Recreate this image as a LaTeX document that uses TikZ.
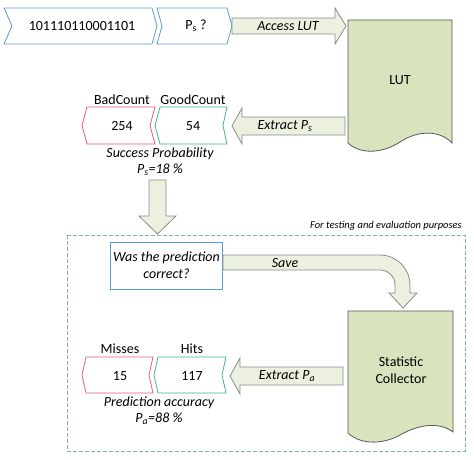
\documentclass[tikz,border=0pt]{standalone}
\usepackage{fontspec}
\setmainfont{Carlito}
\usepackage{tikz}

\definecolor{arrowfill}{HTML}{EBF1DE}
\definecolor{arrowline}{HTML}{8C8C8C}
\definecolor{docfill}{HTML}{D7E4BD}
\definecolor{docline}{HTML}{595959}
\definecolor{chevblue}{HTML}{5B9BD5}
\definecolor{chevred}{HTML}{EE5A6A}
\definecolor{chevgreen}{HTML}{3DB784}
\definecolor{boxdash}{HTML}{7FAFC2}

\newcommand{\Ps}{P\textsubscript{s}}
\newcommand{\Pa}{P\textsubscript{a}}

\begin{document}
\begin{tikzpicture}[x=1pt,y=-1pt,
  every node/.style={font=\fontsize{14}{17}\selectfont, inner sep=0pt},
  blockarrow/.style={fill=arrowfill, draw=arrowline, line width=0.8pt, line join=miter},
  document/.style={fill=docfill, draw=docline, line width=0.8pt},
  chevron/.style={fill=white, line width=0.8pt},
  label/.style={font=\fontsize{14}{17}\selectfont\itshape}]
  \useasboundingbox (0,0) rectangle (474,460);

  % input register
  \draw[chevron, draw=chevblue] (4,8) -- (152,8) -- (157,26) -- (152,44) -- (4,44) -- (12,26) -- cycle;
  \draw[chevron, draw=chevblue] (157,8) -- (227,8) -- (232,26) -- (227,44) -- (157,44) -- (162,26) -- cycle;
  \node (history) at (82,26) {101110110001101};
  \node (query) at (196,26) {\Ps\ ?};

  % look-up table
  \draw[blockarrow] (232,18) -- (335,18) -- (335,8) -- (346,26) -- (335,44) -- (335,34) -- (232,34) -- cycle;
  \node[label] (access) at (288,26) {Access LUT};
  \draw[document] (348,20) -- (452,20) -- (452,143)
    .. controls (440,130) and (418,130) .. (400,142)
    .. controls (385,152) and (362,156) .. (348,143) -- cycle;
  \node (lut) at (400,80) {LUT};

  \draw[blockarrow] (345,117) -- (242,117) -- (242,108) -- (232,126) -- (242,144) -- (242,135) -- (345,135) -- cycle;
  \node[label] (extractps) at (285,126) {Extract \Ps};

  % counters
  \draw[chevron, draw=chevred] (87,107) -- (155,107) -- (150,125.5) -- (155,144) -- (87,144) -- (82,125.5) -- cycle;
  \draw[chevron, draw=chevgreen] (160,107) -- (227,107) -- (223,125.5) -- (227,144) -- (160,144) -- (155,125.5) -- cycle;
  \node (bad) at (122,126) {254};
  \node (good) at (193,126) {54};
  \node (badlbl) at (122,100) {BadCount};
  \node (goodlbl) at (193,100) {GoodCount};
  \node[label] (success) at (160,154) {Success Probability};
  \node[label] (psval) at (160,170) {\Ps=18 \%};

  \draw[blockarrow] (149,180) -- (166,180) -- (166,216) -- (176,216) -- (157.5,234) -- (139,216) -- (149,216) -- cycle;

  % evaluation part
  \draw[boxdash, line width=0.9pt, dash pattern=on 4pt off 2pt] (67,235) rectangle (465,451);
  \node[font=\fontsize{10.5}{12}\selectfont\itshape, anchor=east] (evalnote) at (462,226) {For testing and evaluation purposes};

  \node[draw=chevblue, line width=0.8pt, minimum width=112, minimum height=47, align=center,
    font=\fontsize{14}{17}\selectfont\itshape] (check) at (166.5,265.5) {Was the prediction\\correct?};

  \draw[blockarrow] (check.east |- 0,255) -- (380,255)
    .. controls (396.5,255) and (410,268.5) .. (410,285) -- (410,293) -- (417,293)
    -- (403,308) -- (389,293) -- (395,293) -- (395,285)
    .. controls (395,276.7) and (388.3,270) .. (380,270) -- (check.east |- 0,270) -- cycle;
  \node[label] (save) at (285,263) {Save};

  \draw[document] (348,311) -- (453,311) -- (453,432)
    .. controls (440,422) and (420,424) .. (402,434)
    .. controls (385,444) and (362,446) .. (348,433) -- cycle;
  \node[align=center] (collector) at (401,370) {Statistic\\Collector};

  \draw[blockarrow] (343,367) -- (240,367) -- (240,358) -- (230,376) -- (240,394) -- (240,385) -- (343,385) -- cycle;
  \node[label] (extractpa) at (287,376) {Extract \Pa};

  \draw[chevron, draw=chevred] (86,357) -- (153,357) -- (149,375) -- (153,393) -- (86,393) -- (82,375) -- cycle;
  \draw[chevron, draw=chevgreen] (158,357) -- (226,357) -- (222,375) -- (226,393) -- (158,393) -- (154,375) -- cycle;
  \node (misses) at (120,376) {15};
  \node (hits) at (192,376) {117};
  \node (misslbl) at (120,349) {Misses};
  \node (hitlbl) at (192,349) {Hits};
  \node[label] (accuracy) at (159,403) {Prediction accuracy};
  \node[label] (paval) at (159,419) {\Pa=88 \%};
\end{tikzpicture}
\end{document}
